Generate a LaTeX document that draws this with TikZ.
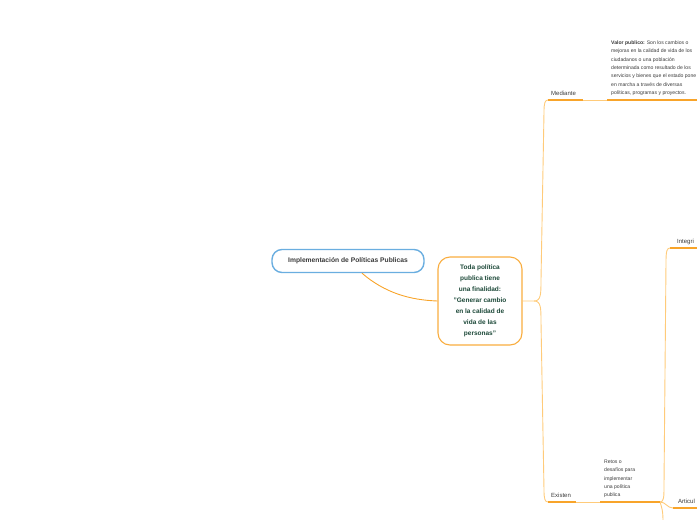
\documentclass[tikz,border=0pt]{standalone}
\usepackage{fontspec}
\setmainfont{Liberation Sans}
\definecolor{branch}{HTML}{FFCB7A}
\definecolor{ruleorange}{HTML}{F8A42A}
\definecolor{rootblue}{HTML}{6AAEE0}
\definecolor{goalgreen}{HTML}{1E4A3A}
\definecolor{ink}{HTML}{3A3A3A}
\tikzset{
  rootbox/.style={draw=rootblue, line width=1.4pt, rounded corners=10pt, fill=white,
    minimum width=152pt, minimum height=23pt, inner sep=0pt, text=ink,
    font=\fontsize{6.7}{7}\selectfont\bfseries},
  goalbox/.style={draw=ruleorange!90, line width=1.1pt, rounded corners=12pt, fill=white,
    minimum width=84pt, minimum height=88pt, inner sep=0pt, align=center, text=goalgreen,
    font=\fontsize{6.5}{11}\selectfont\bfseries},
  leaf/.style={anchor=base west, inner sep=0pt, text=ink, font=\fontsize{6}{7}\selectfont},
  note/.style={anchor=north west, inner sep=0pt, align=left, text=ink,
    font=\fontsize{5.1}{8.4}\selectfont},
  link/.style={draw=ruleorange, line width=0.9pt},
  twig/.style={draw=branch, line width=0.9pt},
  underline/.style={draw=ruleorange, line width=1.7pt}
}
\begin{document}
\begin{tikzpicture}[x=1pt,y=-1pt]
  \useasboundingbox (0,0) rectangle (697,520);
  % central topics
  \node[rootbox] (root) at (348,261) {Implementación de Políticas Publicas};
  \node[goalbox] (goal) at (480,301) {Toda política\\publica tiene\\una finalidad:\\"Generar cambio\\en la calidad de\\vida de las\\personas"};
  \draw[link] ([xshift=14pt]root.south) .. controls (385,293) and (410,300) .. (goal.west);
  % branches
  \coordinate (fork) at (534,301); \coordinate (mstart) at (548,100);
  \coordinate (estart) at (548,502); \coordinate (knot) at (660,502);
  \coordinate (istart) at (670,248); \coordinate (astart) at (673,508);
  \coordinate (tail) at (663,520);
  \draw[twig] (goal.east) -- (fork) .. controls (541,301) and (541,294) .. (541,280)
    -- (544,112) .. controls (544,103) and (545,100) .. (mstart);
  \draw[twig] (fork) .. controls (541,301) and (541,308) .. (541,322)
    -- (544,490) .. controls (544,499) and (545,502) .. (estart);
  \draw[twig] (knot) .. controls (664,502) and (664,497) .. (664,485)
    -- (666,262) .. controls (666,251) and (667,248) .. (istart);
  \draw[twig] (knot) .. controls (666,502) and (667,508) .. (astart);
  \draw[twig] (knot) .. controls (661,505) and (663,510) .. (tail);
  % labels
  \node[leaf] (mediante) at (551,95) {Mediante};
  \node[leaf] (existen) at (551,497) {Existen};
  \node[leaf] (integri) at (677,243) {Integri};
  \node[leaf] (articul) at (678,503) {Articul};
  \node[note] (valor) at (611,40.5) {\textbf{Valor publico:} Son los cambios o\\mejoras en la calidad de vida de los\\ciudadanos o una población\\determinada como resultado de los\\servicios y bienes que el estado pone\\en marcha a través de diversas\\políticas, programas y proyectos.};
  \node[note] (retos) at (604,459.5) {Retos o\\desafíos para\\implementar\\una política\\publica};
  % underlines
  \draw[underline] (mstart) -- (583,100); \draw[twig] (583,100) -- (607,100);
  \draw[underline] (607,100) -- (697,100);
  \draw[underline] (estart) -- (576,502); \draw[twig] (576,502) -- (600,502);
  \draw[underline] (600,502) -- (knot);
  \draw[underline] (istart) -- (697,248);
  \draw[underline] (astart) -- (697,508);
\end{tikzpicture}
\end{document}
